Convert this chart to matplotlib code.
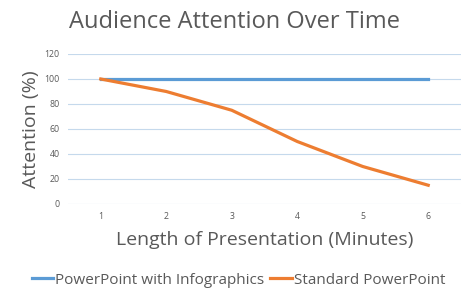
import matplotlib.pyplot as plt

minutes = [1, 2, 3, 4, 5, 6]
infographics = [100, 100, 100, 100, 100, 100]
standard = [100, 90, 75, 50, 30, 15]

plt.rcParams['font.family'] = ['Open Sans', 'DejaVu Sans']

fig = plt.figure(figsize=(4.74, 3.01), dpi=100)
ax = fig.add_axes([0.1435, 0.3223, 0.829, 0.4983])

ax.plot(minutes, infographics, color='#5B9BD5', lw=2.3, label='PowerPoint with Infographics')
ax.plot(minutes, standard, color='#ED7D31', lw=2.3, label='Standard PowerPoint')

ax.set_xlim(0.5, 6.5)
ax.set_ylim(0, 120)
ax.set_yticks(range(0, 121, 20))
ax.set_xticks(minutes)
ax.grid(axis='y', color='#C5D9EC', lw=0.8)
ax.set_axisbelow(True)
for s in ax.spines.values():
    s.set_visible(False)
ax.tick_params(length=0, labelsize=6.3, colors='#595959', pad=6)

ax.set_ylabel('Attention (%)', fontsize=14, color='#595959', labelpad=3)
ax.set_xlabel('Length of Presentation (Minutes)', fontsize=14, color='#595959', labelpad=7)
fig.text(0.494, 0.927, 'Audience Attention Over Time', fontsize=17, color='#595959', ha='center', va='center')

ax.legend(loc='center', bbox_to_anchor=(0.434, -0.507), ncol=2, frameon=False, fontsize=11,
          handlelength=1.4, handletextpad=0.15, columnspacing=0.4, labelcolor='#595959')

fig.savefig('out.png', dpi=100)
